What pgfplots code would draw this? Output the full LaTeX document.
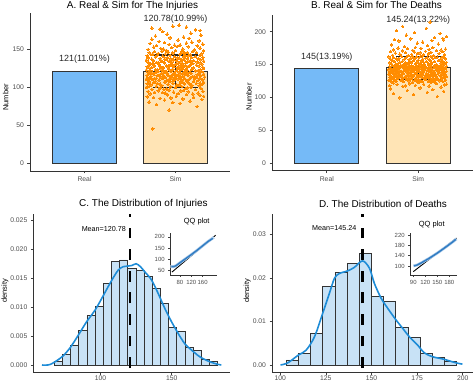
\documentclass[border=0pt]{standalone}
\usepackage{pgfplots}
\pgfplotsset{compat=1.18}
\usepackage{fontspec}
\setmainfont{Liberation Sans}
\definecolor{realblue}{RGB}{117,186,247}
\definecolor{simfill}{RGB}{255,228,181}
\definecolor{dotorange}{RGB}{255,140,0}
\definecolor{histfill}{RGB}{200,226,246}
\definecolor{denscol}{RGB}{30,140,215}
\definecolor{qqblue}{RGB}{50,125,195}
\definecolor{qqband}{RGB}{175,205,235}
\definecolor{ticktext}{RGB}{77,77,77}
\newcommand{\fs}[1]{\fontsize{#1}{#1}\selectfont}
\pgfplotsset{
  gg/.style={
    scale only axis,
    axis lines=left,
    axis line style={-, black!80, line width=0.9bp},
    tick align=outside,
    major tick length=2.5bp,
    tick style={black!75, line width=0.7bp},
    tick label style={font=\fs{6.8}, text=ticktext},
    /pgf/number format/assume math mode=true,
    enlargelimits=false,
    clip=false,
    every axis title/.style={at={(0.5,1)}, anchor=center, font=\fs{10}},
    ylabel style={font=\fs{7.5}, anchor=center},
  },
  gginset/.style={
    gg,
    axis line style={-, black!80, line width=0.7bp},
    major tick length=1.8bp,
    tick style={black!75, line width=0.5bp},
    tick label style={font=\fs{6}, text=ticktext},
    every axis title/.style={at={(0.5,1)}, anchor=center, font=\fs{7.5}},
  },
  dots/.style={only marks, color=dotorange, mark=*, mark size=#1, mark options={solid, fill=dotorange, draw=dotorange, line width=0pt}},
}
\begin{document}
\begin{tikzpicture}
\path[use as bounding box] (0,0) rectangle (474bp,382bp);
% ---------------- Panel A ----------------
\begin{axis}[gg, at={(30bp,211bp)}, anchor=south west, width=200bp, height=158bp,
  xmin=0.4, xmax=2.6, ymin=-10.1, ymax=197,
  xtick={1,2}, xticklabels={Real,Sim}, ytick={0,50,100,150},
  title={A. Real \& Sim for The Injuries}, title style={at={(axis description cs:0.5125,1.044)}},
  ylabel={Number}, ylabel style={at={(axis description cs:-0.1215,0.466)}}]
\addplot[ybar, bar shift=0pt, bar width=0.7, fill=realblue, draw=black!80, line width=0.8bp] coordinates {(1,121)};
\addplot[ybar, bar shift=0pt, bar width=0.7, fill=simfill, draw=black!80, line width=0.8bp] coordinates {(2,120.78)};
\addplot[dots=1.3bp] coordinates {
(1.75,45.3)(1.93,69.8)(2.24,74.6)(1.79,77.1)(2.05,78.4)
(1.71,80.2)(2.16,81.5)(1.88,82.9)(2.29,83.6)(1.97,79.7)(2.08,84.3)
(1.83,85.1)(2.20,86.4)(1.69,87.2)(2.01,88.0)(2.27,88.9)(1.91,89.6)(1.76,86.0)(2.12,90.2)(1.95,85.7)(2.31,87.8)
(1.72,91.0)(2.03,91.4)(2.25,92.1)(1.86,92.7)(1.98,93.3)(2.14,93.8)(1.70,94.2)(2.30,94.6)(1.81,95.1)(2.09,95.5)(1.93,96.0)(2.19,90.8)(1.77,93.0)(2.06,94.9)(1.89,91.9)
(2.22,96.5)(1.74,96.9)(1.90,97.4)(2.11,97.8)(2.28,98.2)(1.83,98.7)(2.00,99.1)(1.68,99.5)(2.17,99.9)(1.95,100.3)(2.07,100.8)(1.79,101.2)(2.26,101.6)(1.87,97.1)(2.13,98.9)(1.71,100.6)(2.02,101.8)
(1.85,102.1)(2.18,102.4)(1.73,102.8)(2.04,103.0)(2.29,103.3)(1.92,103.7)(2.10,104.0)(1.69,104.2)(1.80,104.6)(2.23,104.9)(1.97,105.2)(2.14,105.5)(1.76,105.8)(2.31,106.0)(1.88,106.3)(2.06,106.6)(1.71,106.9)(2.20,107.1)(1.94,107.4)(2.01,102.6)(1.83,103.9)(2.27,105.0)(2.08,106.2)(1.78,107.6)(2.16,103.5)
(1.90,107.9)(2.12,108.1)(1.70,108.3)(2.25,108.6)(1.98,108.8)(1.82,109.0)(2.07,109.3)(2.30,109.5)(1.75,109.7)(2.15,109.9)(1.93,110.2)(1.68,110.4)(2.03,110.6)(2.21,110.8)(1.86,111.0)(2.10,111.3)(1.79,111.5)(2.27,111.7)(1.96,111.9)(1.72,112.1)(2.17,112.4)(1.89,112.6)(2.05,112.8)(2.32,113.0)(1.84,113.2)(2.13,108.4)(1.99,109.6)(1.77,110.9)(2.23,112.2)(2.00,113.3)(1.71,111.8)
(1.94,113.6)(2.19,113.8)(1.73,114.0)(2.08,114.2)(1.87,114.5)(2.28,114.7)(1.80,114.9)(2.02,115.1)(2.14,115.3)(1.69,115.6)(1.97,115.8)(2.24,116.0)(1.83,116.2)(2.11,116.4)(1.76,116.7)(2.31,116.9)(1.91,117.1)(2.05,117.3)(1.71,117.5)(2.17,117.8)(1.85,118.0)(2.26,118.2)(1.99,118.4)(2.09,118.6)(1.78,118.9)(2.21,113.9)(1.92,115.0)(2.00,116.6)(1.74,117.9)(2.13,118.7)(1.88,119.0)
(2.16,119.3)(1.70,119.5)(2.04,119.7)(1.89,120.0)(2.29,120.2)(1.81,120.4)(2.10,120.6)(1.95,120.9)(1.73,121.1)(2.22,121.3)(2.01,121.5)(1.86,121.8)(2.13,122.0)(1.68,122.2)(2.27,122.4)(1.93,122.6)(2.07,122.9)(1.78,123.1)(2.18,123.3)(1.97,123.5)(1.84,123.8)(2.31,124.0)(2.03,124.2)(1.72,124.4)(2.12,124.6)(1.90,119.8)(2.25,121.6)(1.80,122.8)(2.06,124.8)
(1.87,125.0)(2.20,125.2)(1.74,125.5)(2.02,125.7)(2.30,125.9)(1.92,126.1)(2.09,126.4)(1.69,126.6)(1.83,126.8)(2.15,127.0)(1.98,127.3)(2.26,127.5)(1.77,127.7)(2.05,127.9)(1.90,128.2)(2.11,128.4)(1.71,128.6)(2.23,128.8)(1.95,129.1)(1.82,129.3)(2.17,129.5)(2.00,129.7)(2.29,130.0)(1.75,130.2)(2.08,130.4)(1.86,125.6)(2.14,127.1)(1.94,128.9)
(2.19,130.8)(1.72,131.0)(2.03,131.2)(1.88,131.5)(2.27,131.7)(1.79,131.9)(2.12,132.1)(1.96,132.4)(1.70,132.6)(2.24,132.8)(2.06,133.0)(1.85,133.3)(2.15,133.5)(1.93,133.7)(2.31,133.9)(1.76,134.2)(2.01,134.4)(2.20,134.6)(1.84,134.8)(2.10,135.1)(1.68,135.3)(1.98,135.5)(2.28,135.7)(1.90,136.0)(2.07,136.2)(1.81,132.0)(2.17,134.0)
(1.74,136.5)(2.13,136.8)(1.95,137.0)(2.25,137.3)(1.83,137.6)(2.04,137.9)(1.70,138.2)(2.18,138.5)(1.91,138.7)(2.30,139.0)(1.78,139.3)(2.09,139.6)(1.99,139.9)(2.22,140.2)(1.86,140.4)(1.69,140.7)(2.14,141.0)(1.94,141.3)(2.27,141.6)(1.80,141.8)(2.02,138.0)(1.88,136.6)(2.11,140.9)
(2.16,142.2)(1.73,142.5)(2.05,142.9)(1.89,143.2)(2.29,143.6)(1.81,143.9)(2.10,144.2)(1.97,144.6)(1.71,144.9)(2.23,145.3)(1.92,145.6)(2.07,145.9)(1.77,146.3)(2.19,146.6)(1.85,146.9)(2.31,147.3)(2.00,147.6)(1.75,143.0)(2.13,145.0)
(1.90,148.0)(2.21,148.6)(1.70,149.2)(2.08,149.8)(1.84,150.4)(2.27,151.0)(1.96,151.6)(1.76,152.2)(2.14,152.8)(2.02,153.3)(1.87,149.5)
(2.24,153.8)(1.79,154.4)(2.05,155.0)(1.93,155.7)(2.30,156.3)(1.72,156.9)(2.12,157.5)(1.88,158.1)(2.18,158.8)(1.99,154.9)
(1.82,159.6)(2.26,160.5)(2.03,161.6)(1.74,162.7)(2.15,163.8)(1.94,164.6)
(2.09,165.4)(1.78,166.8)(2.28,168.0)(1.91,169.3)(2.17,170.4)
(1.86,172.5)(2.22,175.0)(1.97,179.8)(1.74,177.2)(2.12,178.5)(2.27,173.8)(1.83,176.0)(2.04,181.0)
};
\addplot[black!85, line width=1.1bp] coordinates {(1.75,99.7) (2.25,99.7)};
\addplot[black!85, line width=1.1bp] coordinates {(1.75,141.9) (2.25,141.9)};
\addplot[black!85, line width=1.1bp] coordinates {(2,99.7) (2,141.9)};
\node[font=\fs{9}, text=black!85] at (axis cs:1,137) {121(11.01\%)};
\node[font=\fs{9}, text=black!85] at (axis cs:2,189.5) {120.78(10.99\%)};
\end{axis}
% ---------------- Panel B ----------------
\begin{axis}[gg, at={(272bp,211.3bp)}, anchor=south west, width=201bp, height=155.7bp,
  xmin=0.4, xmax=2.6, ymin=-11.2, ymax=225.4,
  xtick={1,2}, xticklabels={Real,Sim}, ytick={0,50,100,150,200},
  title={B. Real \& Sim for The Deaths}, title style={at={(axis description cs:0.52,1.063)}},
  ylabel={Number}, ylabel style={at={(axis description cs:-0.115,0.475)}}]
\addplot[ybar, bar shift=0pt, bar width=0.7, fill=realblue, draw=black!80, line width=0.8bp] coordinates {(1,145)};
\addplot[ybar, bar shift=0pt, bar width=0.7, fill=simfill, draw=black!80, line width=0.8bp] coordinates {(2,145.24)};
\addplot[dots=1.2bp] coordinates {
(1.80,99.5)(2.21,101.8)(1.95,104.6)(2.10,107.9)(1.73,106.1)(2.28,109.3)
(1.88,110.6)(2.16,111.9)(1.70,113.2)(2.02,114.5)(2.25,115.9)
(1.83,117.0)(2.12,117.5)(1.69,118.0)(1.97,118.6)(2.29,119.1)(1.77,119.7)(2.06,120.2)(1.91,120.8)(2.20,121.3)(1.73,121.8)(2.00,122.4)(2.14,122.9)(1.86,117.8)(2.31,120.5)
(1.94,123.4)(2.18,123.6)(1.71,123.8)(2.05,124.0)(1.84,124.2)(2.27,124.4)(1.99,124.6)(1.76,124.8)(2.11,125.0)(1.90,125.2)(2.23,125.4)(1.68,125.6)(2.03,125.8)(1.81,126.0)(2.15,126.2)(1.96,126.4)(2.30,126.6)(1.74,126.8)(2.08,127.0)(1.87,127.2)(2.19,127.4)(1.70,127.6)(2.00,127.8)(2.25,128.0)(1.83,128.2)(2.12,128.4)(1.93,128.6)(1.78,128.8)(2.07,129.0)(2.29,129.2)(1.89,129.4)(2.16,129.6)(1.72,129.8)(2.02,124.5)(1.97,126.9)(2.21,128.7)
(1.85,130.1)(2.10,130.2)(1.69,130.4)(1.98,130.6)(2.26,130.7)(1.79,130.9)(2.04,131.1)(2.20,131.2)(1.91,131.4)(1.73,131.6)(2.13,131.7)(1.86,131.9)(2.31,132.1)(2.01,132.2)(1.76,132.4)(2.17,132.6)(1.95,132.8)(1.82,132.9)(2.08,133.1)(2.24,133.3)(1.70,133.4)(1.99,133.6)(2.14,133.8)(1.88,133.9)(2.28,134.1)(1.75,134.3)(2.05,134.4)(1.93,134.6)(2.19,134.8)(1.80,134.9)(2.11,135.1)(1.68,135.3)(2.02,135.4)(2.27,135.6)(1.90,135.8)(1.77,135.9)(2.15,136.1)(1.97,136.3)(2.22,136.5)(1.84,136.6)(2.07,130.5)(1.94,132.5)(2.30,134.5)
(1.72,136.8)(2.09,136.9)(1.89,137.1)(2.25,137.2)(1.98,137.4)(1.78,137.5)(2.14,137.7)(2.03,137.8)(1.83,138.0)(2.29,138.1)(1.92,138.3)(1.69,138.4)(2.18,138.6)(2.06,138.7)(1.87,138.9)(1.74,139.0)(2.22,139.2)(2.00,139.3)(1.81,139.5)(2.12,139.6)(1.95,139.8)(2.31,139.9)(1.76,140.1)(2.04,140.2)(1.90,140.4)(2.16,140.5)(1.71,140.7)(2.27,140.8)(1.99,141.0)(1.85,141.1)(2.10,141.3)(1.93,141.4)(2.20,141.6)(1.79,141.7)(2.07,141.9)(1.68,142.0)(2.24,142.2)(1.96,142.3)(1.86,142.5)(2.13,142.6)(2.01,142.8)(1.75,142.9)(2.28,143.1)(1.91,143.2)(2.17,137.6)(1.82,139.7)(2.05,141.5)
(2.11,143.4)(1.73,143.5)(1.97,143.7)(2.23,143.8)(1.88,143.9)(2.06,144.1)(1.77,144.2)(2.30,144.3)(1.94,144.5)(2.15,144.6)(1.70,144.7)(2.02,144.9)(1.84,145.0)(2.19,145.1)(1.92,145.3)(2.26,145.4)(1.80,145.5)(2.09,145.7)(1.99,145.8)(1.74,145.9)(2.13,146.1)(1.87,146.2)(2.28,146.3)(2.04,146.5)(1.78,146.6)(2.21,146.7)(1.95,146.9)(1.69,147.0)(2.08,147.1)(1.90,147.3)(2.17,147.4)(1.83,147.5)(2.31,147.7)(2.00,147.8)(1.76,147.9)(2.12,148.1)(1.93,148.2)(2.24,148.3)(1.86,148.5)(2.05,148.6)(1.72,148.7)(2.18,148.9)(1.98,149.0)(1.81,149.1)(2.27,149.3)(2.03,149.4)(1.89,149.5)(2.14,149.7)(1.75,149.8)(2.22,144.0)(1.96,146.0)
(2.07,150.1)(1.84,150.3)(2.20,150.5)(1.71,150.8)(1.97,151.0)(2.29,151.2)(1.88,151.4)(2.11,151.6)(1.78,151.8)(2.02,152.1)(2.25,152.3)(1.93,152.5)(1.69,152.7)(2.15,152.9)(1.86,153.2)(2.06,153.4)(2.31,153.6)(1.80,153.8)(1.99,154.0)(2.18,154.3)(1.74,154.5)(2.09,154.7)(1.91,154.9)(2.27,155.1)(1.83,155.4)(2.04,155.6)(1.95,155.8)(2.22,156.0)(1.72,156.2)(2.13,156.5)(1.89,151.5)
(2.00,156.9)(1.77,157.1)(2.24,157.3)(1.90,157.6)(2.12,157.8)(1.70,158.1)(2.05,158.3)(1.85,158.5)(2.30,158.8)(1.96,159.0)(2.16,159.2)(1.79,159.5)(2.08,159.7)(1.92,159.9)(2.26,160.2)(1.73,160.4)(2.01,160.6)(2.19,160.9)(1.87,161.1)(2.10,161.3)(1.68,161.6)(1.98,161.8)(2.28,162.0)(1.82,162.3)(2.14,162.5)(1.94,162.7)(2.03,163.0)(1.76,158.6)(2.21,161.4)
(1.89,163.5)(2.17,163.9)(1.72,164.3)(2.06,164.7)(2.29,165.1)(1.93,165.5)(1.80,165.9)(2.11,166.3)(1.99,166.7)(2.23,167.1)(1.75,167.5)(2.02,167.9)(1.86,168.3)(2.14,168.7)(1.96,169.1)(2.27,169.5)(1.70,169.8)
(2.08,170.3)(1.83,170.8)(2.20,171.4)(1.94,171.9)(1.73,172.5)(2.12,173.0)(2.30,173.6)(1.88,174.1)(2.03,174.7)(1.78,175.2)(2.16,175.8)(1.97,176.3)(2.25,172.2)
(1.85,177.3)(2.10,178.6)(1.71,179.9)(2.22,181.2)(1.99,182.6)
(2.05,184.1)(1.79,185.9)(2.28,187.4)(1.92,189.2)(2.15,186.5)(1.74,188.3)
(2.18,191.3)(1.87,194.8)(2.31,192.6)
(1.96,198.6)(2.24,197.2)(1.76,201.5)(2.09,205.3)(1.83,208.0)(2.13,214.7)(2.27,189.7)
};
\addplot[black!85, line width=1.1bp] coordinates {(1.755,127.8) (2.245,127.8)};
\addplot[black!85, line width=1.1bp] coordinates {(1.755,162.7) (2.245,162.7)};
\addplot[black!85, line width=1.1bp] coordinates {(2,127.8) (2,162.7)};
\node[font=\fs{9}, text=black!85] at (axis cs:1,161) {145(13.19\%)};
\node[font=\fs{9}, text=black!85] at (axis cs:2,217.8) {145.24(13.22\%)};
\end{axis}
% ---------------- Panel C ----------------
\begin{axis}[gg, at={(33.3bp,9.3bp)}, anchor=south west, width=196.7bp, height=158.7bp,
  xmin=52.8, xmax=190.9, ymin=-0.00133, ymax=0.0261,
  xtick={100,150}, ytick={0,0.005,0.010,0.015,0.020,0.025},
  scaled y ticks=false,
  xticklabel style={yshift=2.5bp},
  yticklabel style={/pgf/number format/fixed, /pgf/number format/fixed zerofill, /pgf/number format/precision=3},
  title={C. The Distribution of Injuries}, title style={at={(axis description cs:0.56,1.061)}},
  ylabel={density}, ylabel style={at={(axis description cs:-0.144,0.515)}}]
\addplot[ybar interval, fill=histfill, draw=black!80, line width=0.75bp] coordinates {
(67.54,0.0006)(73.27,0.00184)(79.00,0.00346)(84.73,0.00605)(90.46,0.00853)(96.19,0.01008)(101.92,0.0141)(107.65,0.01786)(113.38,0.01815)(119.11,0.0167)(124.84,0.0163)(130.57,0.01527)(136.30,0.01325)(142.03,0.01066)(147.76,0.0065)(153.49,0.00576)(159.22,0.00305)(164.95,0.00259)(170.68,0.00098)(176.41,0.00058)(182.14,0.00058)};
\addplot[denscol, line width=1.6bp, smooth] coordinates {
(58.9,0)(64.7,0.0001)(72.9,0.0014)(78.7,0.0030)(84.5,0.0052)(90.3,0.0075)(96.2,0.0095)(101.5,0.0118)(107.3,0.0144)(112.4,0.0164)(116,0.0170)(119,0.0171)(122,0.0172)(125,0.0175)(128,0.0170)(131.1,0.0161)(135.8,0.0147)(140.4,0.0124)(145.1,0.0098)(149.8,0.0075)(154.4,0.0055)(159.1,0.0037)(163.8,0.0026)(169.6,0.00144)(175.4,0.0007)(181,0.0002)(184.8,0)};
\addplot[black, line width=2.7bp, dash pattern=on 10.8bp off 10.8bp, dash phase=17bp] coordinates {(120.78,-0.00133) (120.78,0.0261)};
\node[font=\fs{7.2}] at (axis cs:102.3,0.02345) {Mean=120.78};
\end{axis}
\begin{axis}[gginset, at={(170bp,107bp)}, anchor=south west, width=46.5bp, height=41.5bp,
  xmin=45, xmax=209, ymin=31, ymax=214.6, xtick={80,120,160}, ytick={50,100,150,200},
  title={QQ plot}, title style={at={(axis description cs:0.574,1.284)}}]
\addplot[black, line width=0.9bp] coordinates {(52,44) (206,207)};
\addplot[qqband, line width=2.8bp] coordinates {(46,68)(58,68)(66,72)(80,85)(100,103)(120,121)(140,140)(160,160)(180,180)(200,198)};
\addplot[qqblue, line width=1.5bp] coordinates {(50,68)(58,68)(66,72)(80,85)(100,103)(120,121)(140,140)(160,160)(180,180)(196,193)};
\end{axis}
% ---------------- Panel D ----------------
\begin{axis}[gg, at={(272bp,9.3bp)}, anchor=south west, width=201bp, height=158.7bp,
  xmin=95.5, xmax=205.6, ymin=-0.00177, ymax=0.03466,
  xtick={100,125,150,175,200}, ytick={0,0.01,0.02,0.03},
  scaled y ticks=false,
  xticklabel style={yshift=2.5bp},
  yticklabel style={/pgf/number format/fixed, /pgf/number format/fixed zerofill, /pgf/number format/precision=2},
  title={D. The Distribution of Deaths}, title style={at={(axis description cs:0.552,1.061)}},
  ylabel={density}, ylabel style={at={(axis description cs:-0.124,0.515)}}]
\addplot[ybar interval, fill=histfill, draw=black!80, line width=0.75bp] coordinates {
(103.33,0.00115)(110.00,0.0027)(116.67,0.0072)(123.33,0.018)(130.00,0.0213)(136.67,0.0233)(143.33,0.0256)(150.00,0.01567)(156.67,0.01468)(163.33,0.00864)(170.00,0.00627)(176.67,0.00268)(183.33,0.00176)(190.00,0.00076)(196.67,0.00076)};
\addplot[denscol, line width=1.6bp, smooth] coordinates {
(100.2,0)(104.2,0.0005)(110.0,0.0023)(114.2,0.0034)(118.8,0.0065)(123.3,0.0119)(126.9,0.0164)(129.7,0.0199)(132.4,0.0210)(136.9,0.0216)(140.6,0.0224)(145.1,0.0239)(148.9,0.0222)(151.6,0.0187)(155.3,0.0153)(158.9,0.0130)(163.5,0.0103)(167.1,0.0084)(170.7,0.0065)(175.2,0.0046)(178.9,0.0028)(183.4,0.0019)(189.8,0.0013)(196.2,0.0005)(199.8,0.0002)};
\addplot[black, line width=2.7bp, dash pattern=on 10.8bp off 10.8bp, dash phase=17bp] coordinates {(145.24,-0.00177) (145.24,0.03466)};
\node[font=\fs{7.2}] at (axis cs:129.6,0.03137) {Mean=145.24};
\end{axis}
\begin{axis}[gginset, at={(410bp,107bp)}, anchor=south west, width=46.7bp, height=41.7bp,
  xmin=81.7, xmax=198.5, ymin=65, ymax=226.6, xtick={90,120,150,180}, ytick={100,140,180,220},
  title={QQ plot}, title style={at={(axis description cs:0.465,1.216)}}]
\addplot[black, line width=0.9bp] coordinates {(90,78) (198,208)};
\addplot[qqband, line width=2.8bp] coordinates {(90,100)(100,104)(110,112)(130,130)(150,150)(170,172)(190,195)(198,205)};
\addplot[qqblue, line width=1.5bp] coordinates {(92,100)(100,104)(110,112)(130,130)(150,150)(170,172)(190,195)(196,203)};
\end{axis}
\end{tikzpicture}
\end{document}
